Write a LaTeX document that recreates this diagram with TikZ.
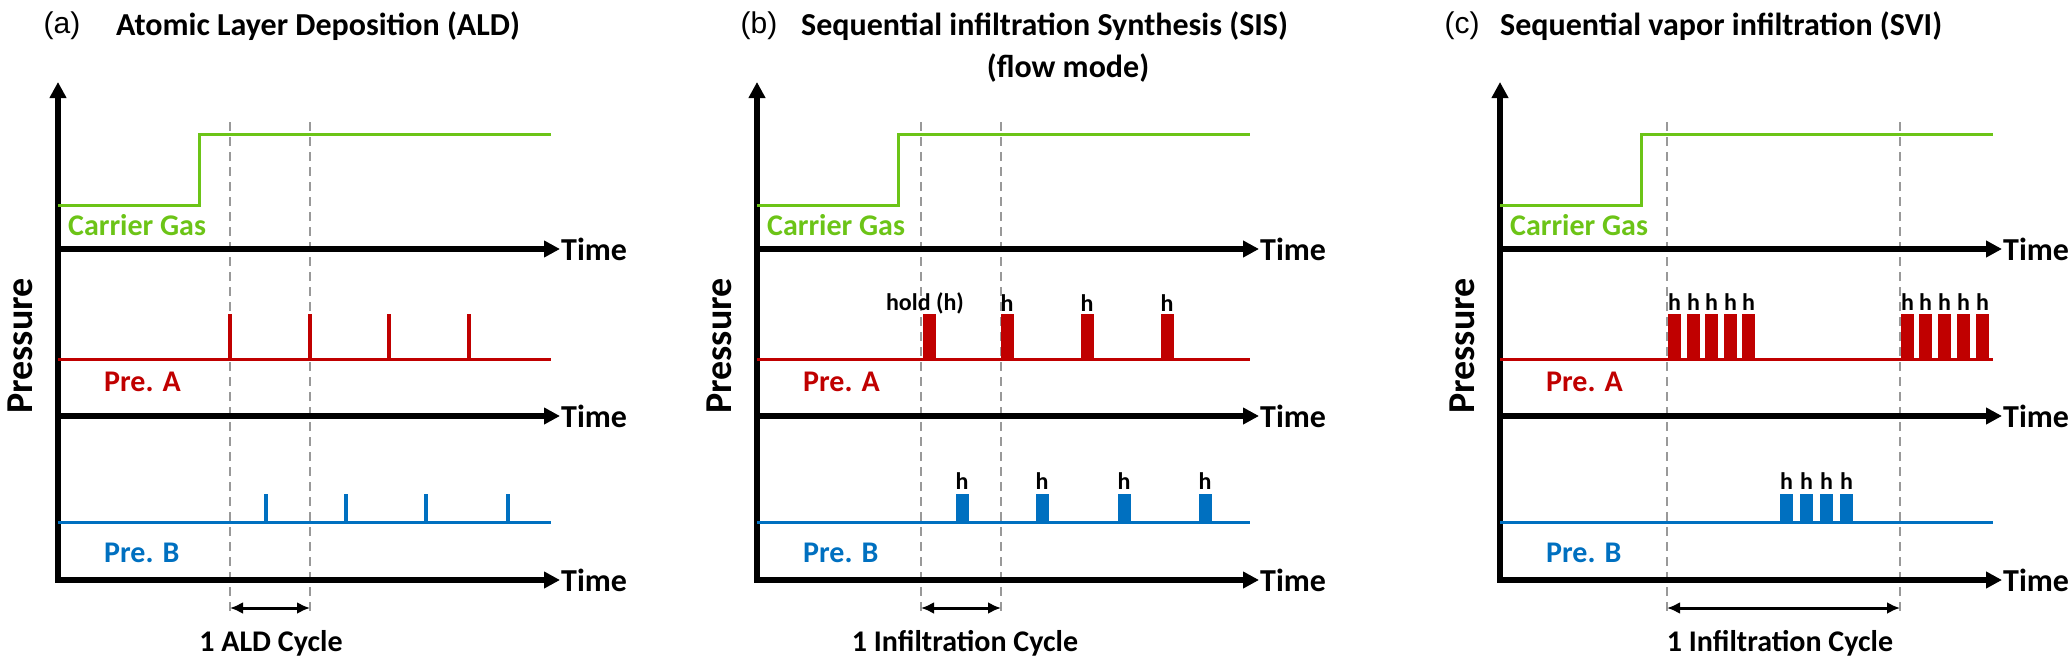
\documentclass[tikz,border=0pt]{standalone}
\usepackage{fontspec}
\setmainfont{Carlito}
\newfontfamily\arialf{Liberation Sans}
\usetikzlibrary{arrows.meta}
\definecolor{cg}{HTML}{6CC417}
\definecolor{ca}{HTML}{C00000}
\definecolor{cb}{HTML}{0070C0}
\tikzset{
 axis/.style={line width=5.5pt,-{Triangle[length=16pt,width=16pt]}},
 sig/.style={line width=3pt},
 spk/.style={line width=4.5pt},
 gl/.style={draw=gray!80,line width=1.6pt,dash pattern=on 9pt off 6pt},
 timelbl/.style={font=\bfseries\fontsize{32}{34}\selectfont,inner sep=1pt},
 lbl/.style={font=\bfseries\fontsize{30}{32}\selectfont,inner sep=0pt},
 hl/.style={font=\bfseries\fontsize{24}{26}\selectfont,inner sep=0pt},
 cyc/.style={line width=3pt,{Latex[length=13pt,width=12pt]}-{Latex[length=13pt,width=12pt]}},
 ttl/.style={font=\bfseries\fontsize{32}{36}\selectfont,inner sep=0pt,align=center},
 pl/.style={font=\arialf\fontsize{30}{34}\selectfont,inner sep=0pt},
}
\newcommand\mypanel[2]{%
 \begin{scope}[xshift=#2pt]
  \coordinate (top#1) at (58,82);
  \coordinate (org#1) at (58,580);
  \coordinate (o1#1) at (58,249);
  \coordinate (o2#1) at (58,416);
  \node[timelbl,anchor=west] (t1#1) at (560,249) {Time};
  \node[timelbl,anchor=west] (t2#1) at (560,416) {Time};
  \node[timelbl,anchor=west] (t3#1) at (560,580) {Time};
  \draw[axis] (o1#1) -- (t1#1.west);
  \draw[axis] (o2#1) -- (t2#1.west);
  \draw[axis] ([xshift=-2.75pt]org#1) -- (t3#1.west);
  \draw[axis] (org#1) -- (top#1);
  \node[rotate=90,font=\bfseries\fontsize{38}{40}\selectfont,inner sep=0pt] (pr#1) at (20,346) {Pressure};
  \coordinate (g0#1) at (58,205);
  \coordinate (g3#1) at (551,134);
  \draw[sig,cg] (g0#1) -| (199,134) -- (g3#1);
  \node[lbl,text=cg,anchor=west] (cl#1) at (68,225) {Carrier Gas};
  \node[lbl,text=ca,anchor=west] (al#1) at (104,382) {Pre. A};
  \node[lbl,text=cb,anchor=west] (bl#1) at (104,553) {Pre. B};
  \coordinate (ra#1) at (58,359); \coordinate (rb#1) at (551,359);
  \coordinate (ba#1) at (58,522); \coordinate (bb#1) at (551,522);
  \draw[sig,ca] (ra#1) -- (rb#1);
  \draw[sig,cb] (ba#1) -- (bb#1);
 \end{scope}}
\begin{document}
\begin{tikzpicture}[x=1pt,y=-1pt]
\useasboundingbox (0,0) rectangle (2070,661);
% dashed guides first (behind)
\coordinate (da1) at (230,122); \coordinate (da2) at (230,612);
\coordinate (da3) at (310,122); \coordinate (da4) at (310,612);
\draw[gl] (da1) -- (da2); \draw[gl] (da3) -- (da4);
\coordinate (db1) at (921,122); \coordinate (db2) at (921,612);
\coordinate (db3) at (1001,122); \coordinate (db4) at (1001,612);
\draw[gl] (db1) -- (db2); \draw[gl] (db3) -- (db4);
\coordinate (dc1) at (1667,122); \coordinate (dc2) at (1667,612);
\coordinate (dc3) at (1900,122); \coordinate (dc4) at (1900,612);
\draw[gl] (dc1) -- (dc2); \draw[gl] (dc3) -- (dc4);
% ---------- (a)
\mypanel{a}{0}
\node[pl] (pa) at (62,26) {(a)};
\node[ttl,anchor=west] (ta) at (116,26) {Atomic Layer Deposition (ALD)};
\foreach \x in {230,310,389,469} \draw[spk,ca] (\x,360) -- (\x,314);
\foreach \x in {266,346,426,508} \draw[spk,cb] (\x,523) -- (\x,494);
\coordinate (ca1) at (230,608); \coordinate (ca2) at (310,608);
\draw[cyc] (ca1) -- (ca2);
\node[lbl] (cya) at (271,643) {1 ALD Cycle};
% ---------- (b)
\mypanel{b}{699}
\node[pl] (pb) at (759,26) {(b)};
\node[ttl,anchor=west] (tb) at (801,26) {Sequential infiltration Synthesis (SIS)};
\node[ttl] (tb2) at (1068,68) {(flow mode)};
\foreach \x in {923,1001,1081,1161} \fill[ca] (\x,360) rectangle (\x+13,314);
\foreach \x in {956,1036,1118,1199} \fill[cb] (\x,523) rectangle (\x+13,494);
\node[hl] (hold) at (925,303) {hold (h)};
\foreach \x/\n in {1007/1,1087/2,1167/3} \node[hl] (hr\n) at (\x,303) {h};
\foreach \x/\n in {962/1,1042/2,1124/3,1205/4} \node[hl] (hb\n) at (\x,481) {h};
\coordinate (cb1) at (921,608); \coordinate (cb2) at (1001,608);
\draw[cyc] (cb1) -- (cb2);
\node[lbl] (cyb) at (965,643) {1 Infiltration Cycle};
% ---------- (c)
\mypanel{c}{1442}
\node[pl] (pc) at (1462,26) {(c)};
\node[ttl,anchor=west] (tc) at (1500,26) {Sequential vapor infiltration (SVI)};
\foreach \x [count=\n] in {1668,1687,1705,1724,1742,1901,1919,1938,1957,1976} {
  \fill[ca] (\x,360) rectangle (\x+13,314);
  \node[hl] (hc\n) at (\x+6.5,302) {h};}
\foreach \x [count=\n] in {1780,1800,1820,1840} {
  \fill[cb] (\x,523) rectangle (\x+13,494);
  \node[hl] (hd\n) at (\x+6.5,481) {h};}
\coordinate (cc1) at (1667,608); \coordinate (cc2) at (1900,608);
\draw[cyc] (cc1) -- (cc2);
\node[lbl] (cyc) at (1780,643) {1 Infiltration Cycle};
\end{tikzpicture}
\end{document}
